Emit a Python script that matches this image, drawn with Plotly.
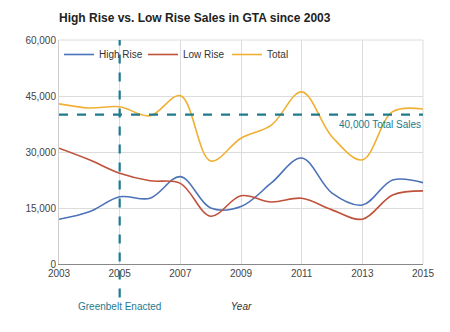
import plotly.graph_objects as go

years = list(range(2003, 2016))
high_rise = [12000, 14000, 18000, 17600, 23400, 15000, 15400, 21700, 28400, 19000, 15800, 22500, 21800]
low_rise = [31000, 27900, 24300, 22300, 21600, 12800, 18300, 16600, 17600, 14500, 12000, 18500, 19600]
total = [42900, 41800, 42100, 39700, 45100, 27600, 33700, 37200, 46100, 34100, 27900, 40800, 41500]

series_names = ["High Rise", "Low Rise", "Total"]
series_colors = ["#4c72b8", "#c0513a", "#f0b034"]
teal = "#1f7a8c"

fig = go.Figure()
for name, vals, col in zip(series_names, [high_rise, low_rise, total], series_colors):
    fig.add_trace(go.Scatter(x=years, y=vals, name=name, mode="lines",
                             line=dict(color=col, width=1.6, shape="spline", smoothing=1.0)))

fig.add_shape(type="line", xref="paper", yref="y", x0=0, x1=1, y0=40000, y1=40000,
              line=dict(color=teal, width=2.2, dash="dash"))
fig.add_shape(type="line", xref="x", yref="paper", x0=2005, x1=2005, y0=-0.15, y1=1,
              line=dict(color=teal, width=2.2, dash="dash"))

fig.add_annotation(x=2015, y=40000, xref="x", yref="y", text="40,000 Total Sales",
                   showarrow=False, xanchor="right", yanchor="top", yshift=-2,
                   font=dict(color=teal, size=10))
fig.add_annotation(x=2005, y=-0.155, xref="x", yref="paper", text="Greenbelt Enacted",
                   showarrow=False, xanchor="center", yanchor="top",
                   font=dict(color=teal, size=10))

fig.update_layout(
    width=450, height=332,
    margin=dict(l=59, r=27, t=40, b=68),
    paper_bgcolor="white", plot_bgcolor="white",
    font=dict(family="Liberation Sans, Arial, sans-serif", size=10, color="#444"),
    title=dict(text="<b>High Rise vs. Low Rise Sales in GTA since 2003</b>",
               x=59/450, xanchor="left", y=1-18/332, yanchor="middle", xref="container",
               font=dict(size=12, color="#222")),
    legend=dict(orientation="h", x=0, y=1, xanchor="left", yanchor="top",
                bgcolor="rgba(0,0,0,0)", font=dict(size=10, color="#333"),
                itemwidth=30, tracegroupgap=0, entrywidth=39, entrywidthmode="pixels"),
    showlegend=True,
)
fig.update_xaxes(range=[2003, 2015], tickvals=list(range(2003, 2016, 2)),
                 ticktext=[str(y) for y in range(2003, 2016, 2)],
                 showgrid=True, gridcolor="#dcdcdc", gridwidth=1,
                 showline=True, linecolor="#888", linewidth=1, mirror=False,
                 zeroline=False, ticks="", tickfont=dict(size=10, color="#444"),
                 title=dict(text="<i>Year</i>", font=dict(size=10, color="#333"), standoff=24))
fig.update_yaxes(range=[0, 60000], tickvals=[0, 15000, 30000, 45000, 60000],
                 tickformat=",", showgrid=True, gridcolor="#dcdcdc", gridwidth=1,
                 showline=True, linecolor="#ccc", linewidth=1, zeroline=False,
                 ticks="", tickfont=dict(size=10, color="#444"))
fig.add_shape(type="line", xref="paper", yref="paper", x0=1, x1=1, y0=0, y1=1,
              line=dict(color="#dcdcdc", width=1), layer="below")
fig.add_shape(type="line", xref="paper", yref="paper", x0=0, x1=1, y0=1, y1=1,
              line=dict(color="#dcdcdc", width=1), layer="below")

fig.write_html("out.html")
